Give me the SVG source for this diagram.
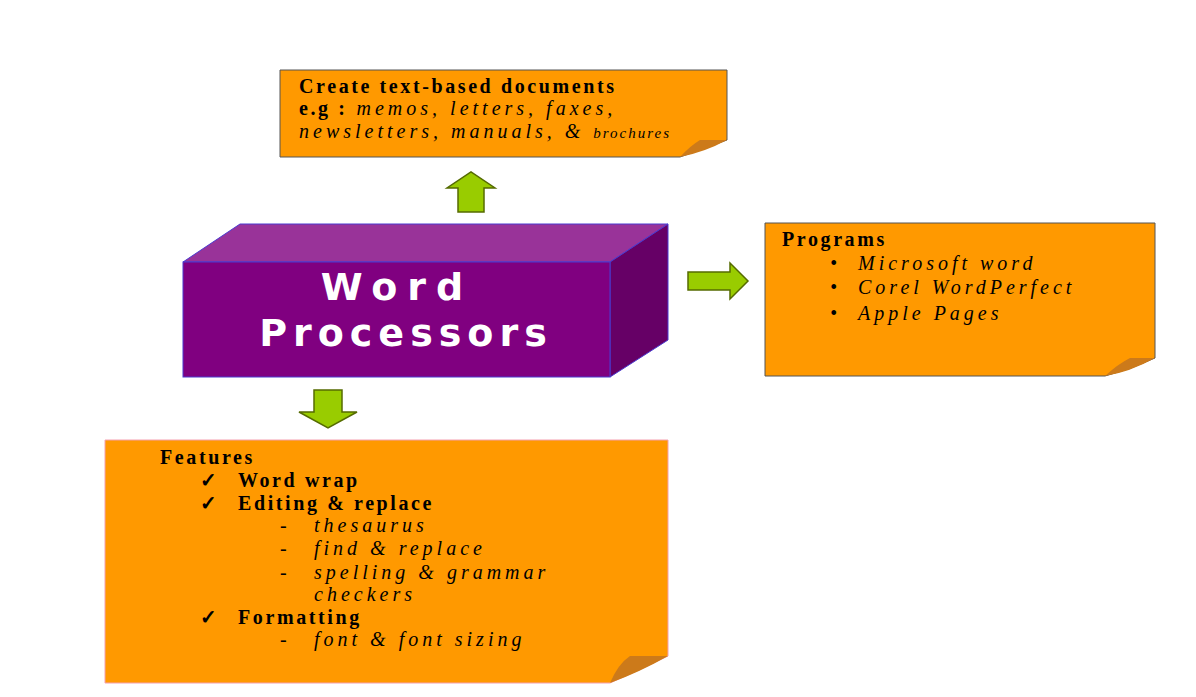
<svg xmlns="http://www.w3.org/2000/svg" width="1196" height="697" viewBox="0 0 1196 697">
<style>
.note{fill:#FF9900;stroke:#555;stroke-width:1}
.fold{fill:#CC7A1A}
.b{font-family:"Liberation Serif",serif;font-weight:bold;font-size:20px;fill:#000;letter-spacing:2.6px}
.i{font-family:"Liberation Serif",serif;font-style:italic;font-size:20px;fill:#000;letter-spacing:4px}
.arr{fill:#99CC00;stroke:#556B00;stroke-width:1.5}
.t{font-family:"DejaVu Sans",sans-serif;font-weight:bold;font-size:38px;fill:#fff}
</style>
<rect width="1196" height="697" fill="#fff"/>
<g id="connectors">
<polygon class="arr" points="458,212 484,212 484,188 495,188 471,172 447,188 458,188"/>
<polygon class="arr" points="688,272 730,272 730,263 748,281 730,299 730,290 688,290"/>
<polygon class="arr" points="314,390 342,390 342,412 357,412 328,428 299,412 314,412"/>
</g>
<g id="word-processors">
<polygon points="183,262 240,224 668,224 610,262" fill="#993399" stroke="#4B3BD0"/>
<polygon points="610,262 668,224 668,340 610,377" fill="#660066" stroke="#4B3BD0"/>
<rect x="183" y="262" width="427" height="115" fill="#800080" stroke="#4B3BD0"/>
<text class="t" x="397" y="300" text-anchor="middle" letter-spacing="10">Word</text>
<text class="t" x="406" y="346" text-anchor="middle" letter-spacing="6">Processors</text>
</g>
<g id="documents">
<path class="note" d="M280,70 H727 V140 Q700,150 680,157 H280 Z"/>
<path class="fold" d="M680,157 Q690,146 700,140 L727,140 Q705,152 680,157 Z"/>
<text class="b" x="299" y="93">Create text-based documents</text>
<text x="299" y="115"><tspan class="b">e.g :</tspan><tspan class="i"> memos, letters, faxes,</tspan></text>
<text class="i" x="299" y="138">newsletters, manuals, &amp; <tspan font-size="15" letter-spacing="2">brochures</tspan></text>
</g>
<g id="programs">
<path class="note" d="M765,223 H1155 V358 Q1130,370 1105,376 H765 Z"/>
<path class="fold" d="M1105,376 Q1118,364 1130,358 L1155,358 Q1130,372 1105,376 Z"/>
<text class="b" x="782" y="246">Programs</text>
<text class="i" x="830" y="270">•<tspan x="858">Microsoft word</tspan></text>
<text class="i" x="830" y="294">•<tspan x="858">Corel WordPerfect</tspan></text>
<text class="i" x="830" y="320">•<tspan x="858">Apple Pages</tspan></text>
</g>
<g id="features">
<path d="M105,440 H668 V656 Q640,670 610,683 H105 Z" fill="#FF9900" stroke="#F4A0B0"/>
<path class="fold" d="M610,683 Q618,664 630,656 L668,656 Q640,672 610,683 Z"/>
<text class="b" x="160" y="464">Features</text>
<text class="b" x="200" y="487">✓<tspan x="238">Word wrap</tspan></text>
<text class="b" x="200" y="510">✓<tspan x="238">Editing &amp; replace</tspan></text>
<text class="i" x="280" y="532">-<tspan x="314">thesaurus</tspan></text>
<text class="i" x="280" y="555">-<tspan x="314">find &amp; replace</tspan></text>
<text class="i" x="280" y="579">-<tspan x="314">spelling &amp; grammar</tspan></text>
<text class="i" x="314" y="601">checkers</text>
<text class="b" x="200" y="624">✓<tspan x="238">Formatting</tspan></text>
<text class="i" x="280" y="646">-<tspan x="314">font &amp; font sizing</tspan></text>
</g>
</svg>
